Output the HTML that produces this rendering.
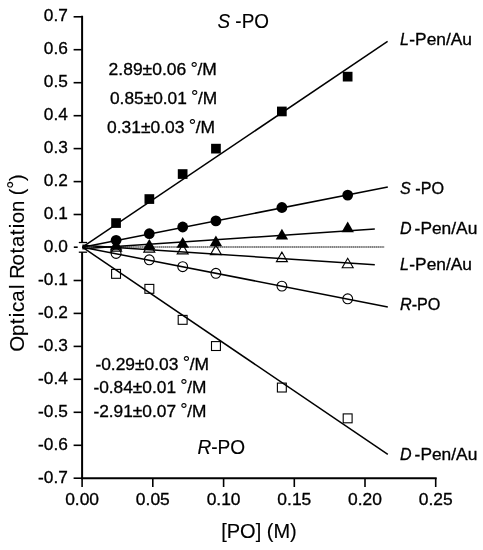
<!DOCTYPE html>
<html><head><meta charset="utf-8"><title>Optical Rotation</title>
<style>
html,body{margin:0;padding:0;background:#fff;}
svg{display:block;}
text{font-family:"Liberation Sans",Arial,sans-serif;fill:#000;stroke:#000;stroke-width:0.3px;}
.tl{font-size:16px;}
.an{font-size:16px;}
.ax{font-size:20px;stroke-width:0.15px;}
.it{font-style:italic;}
</style></head><body>
<svg width="483" height="550" viewBox="0 0 483 550">
<rect width="483" height="550" fill="#fff"/>

<line x1="83" y1="247.0" x2="384.2" y2="247.0" stroke="#5a5a5a" stroke-width="1.3" stroke-dasharray="1.5,0.4"/>
<rect x="111.6" y="269.4" width="8.9" height="8.9" fill="none" stroke="#000" stroke-width="1.1"/>
<rect x="144.9" y="284.4" width="8.9" height="8.9" fill="none" stroke="#000" stroke-width="1.1"/>
<rect x="178.2" y="315.4" width="8.9" height="8.9" fill="none" stroke="#000" stroke-width="1.1"/>
<rect x="211.5" y="341.6" width="8.9" height="8.9" fill="none" stroke="#000" stroke-width="1.1"/>
<rect x="277.4" y="383.1" width="8.9" height="8.9" fill="none" stroke="#000" stroke-width="1.1"/>
<rect x="343.2" y="413.9" width="8.9" height="8.9" fill="none" stroke="#000" stroke-width="1.1"/>
<circle cx="116.1" cy="253.5" r="4.9" fill="none" stroke="#000" stroke-width="1.1"/>
<circle cx="149.3" cy="259.8" r="4.9" fill="none" stroke="#000" stroke-width="1.1"/>
<circle cx="182.7" cy="266.7" r="4.9" fill="none" stroke="#000" stroke-width="1.1"/>
<circle cx="215.9" cy="273.3" r="4.9" fill="none" stroke="#000" stroke-width="1.1"/>
<circle cx="281.9" cy="286.1" r="4.9" fill="none" stroke="#000" stroke-width="1.1"/>
<circle cx="347.7" cy="298.8" r="4.9" fill="none" stroke="#000" stroke-width="1.1"/>
<polygon points="116.1,241.6 110.6,251.1 121.6,251.1" fill="none" stroke="#000" stroke-width="1.1"/>
<polygon points="149.3,242.6 143.8,252.1 154.8,252.1" fill="none" stroke="#000" stroke-width="1.1"/>
<polygon points="182.7,244.4 177.2,253.9 188.2,253.9" fill="none" stroke="#000" stroke-width="1.1"/>
<polygon points="215.9,245.1 210.4,254.6 221.4,254.6" fill="none" stroke="#000" stroke-width="1.1"/>
<polygon points="281.9,252.1 276.4,261.6 287.4,261.6" fill="none" stroke="#000" stroke-width="1.1"/>
<polygon points="347.7,258.3 342.2,267.8 353.2,267.8" fill="none" stroke="#000" stroke-width="1.1"/>
<rect x="111.2" y="218.2" width="9.7" height="9.7" fill="#000"/>
<rect x="144.5" y="194.2" width="9.7" height="9.7" fill="#000"/>
<rect x="177.8" y="169.2" width="9.7" height="9.7" fill="#000"/>
<rect x="211.1" y="143.8" width="9.7" height="9.7" fill="#000"/>
<rect x="277.0" y="106.6" width="9.7" height="9.7" fill="#000"/>
<rect x="342.8" y="71.8" width="9.7" height="9.7" fill="#000"/>
<circle cx="116.1" cy="240.3" r="5.4" fill="#000"/>
<circle cx="149.3" cy="233.7" r="5.4" fill="#000"/>
<circle cx="182.7" cy="227.0" r="5.4" fill="#000"/>
<circle cx="215.9" cy="220.9" r="5.4" fill="#000"/>
<circle cx="281.9" cy="207.5" r="5.4" fill="#000"/>
<circle cx="347.7" cy="195.1" r="5.4" fill="#000"/>
<polygon points="116.1,239.0 109.9,249.7 122.3,249.7" fill="#000"/>
<polygon points="149.3,238.9 143.1,249.6 155.5,249.6" fill="#000"/>
<polygon points="182.7,237.0 176.5,247.7 188.9,247.7" fill="#000"/>
<polygon points="215.9,235.6 209.7,246.3 222.1,246.3" fill="#000"/>
<polygon points="281.9,228.7 275.7,239.4 288.1,239.4" fill="#000"/>
<polygon points="347.7,221.5 341.5,232.2 353.9,232.2" fill="#000"/>
<g stroke="#000" stroke-width="2" fill="none">
<line x1="82.1" y1="15.8" x2="82.1" y2="479.2"/>
<line x1="81.1" y1="478.2" x2="436.7" y2="478.2"/>
</g>
<g stroke="#000" stroke-width="1.6">
<line x1="73.6" y1="478.2" x2="82.1" y2="478.2"/>
<line x1="73.6" y1="445.3" x2="82.1" y2="445.3"/>
<line x1="73.6" y1="412.3" x2="82.1" y2="412.3"/>
<line x1="73.6" y1="379.3" x2="82.1" y2="379.3"/>
<line x1="73.6" y1="346.4" x2="82.1" y2="346.4"/>
<line x1="73.6" y1="313.4" x2="82.1" y2="313.4"/>
<line x1="73.6" y1="280.5" x2="82.1" y2="280.5"/>
<line x1="73.8" y1="247.2" x2="77.7" y2="247.2"/>
<line x1="73.6" y1="214.5" x2="82.1" y2="214.5"/>
<line x1="73.6" y1="181.6" x2="82.1" y2="181.6"/>
<line x1="73.6" y1="148.6" x2="82.1" y2="148.6"/>
<line x1="73.6" y1="115.7" x2="82.1" y2="115.7"/>
<line x1="73.6" y1="82.7" x2="82.1" y2="82.7"/>
<line x1="73.6" y1="49.7" x2="82.1" y2="49.7"/>
<line x1="73.6" y1="16.8" x2="82.1" y2="16.8"/>
<line x1="82.1" y1="478.2" x2="82.1" y2="487.0"/>
<line x1="152.8" y1="478.2" x2="152.8" y2="487.0"/>
<line x1="223.6" y1="478.2" x2="223.6" y2="487.0"/>
<line x1="294.3" y1="478.2" x2="294.3" y2="487.0"/>
<line x1="365.0" y1="478.2" x2="365.0" y2="487.0"/>
<line x1="435.7" y1="478.2" x2="435.7" y2="487.0"/>
</g>
<rect x="78" y="242.6" width="8.8" height="9.6" fill="#fff"/>
<g stroke="#000" stroke-width="1.3"><line x1="78.8" y1="242.5" x2="87.1" y2="242.5"/><line x1="78.8" y1="252.2" x2="87.1" y2="252.2"/></g>
<g stroke="#000" stroke-width="1.5">
<line x1="82.4" y1="247.2" x2="387.6" y2="41.4"/>
<line x1="82.4" y1="247.2" x2="387.8" y2="187.0"/>
<line x1="82.4" y1="248.8" x2="374.8" y2="229.0"/>
<line x1="82.4" y1="245.2" x2="374.8" y2="264.8"/>
<line x1="82.4" y1="247.2" x2="387.8" y2="306.9"/>
<line x1="82.4" y1="247.2" x2="387.8" y2="454.4"/>
</g>
<text class="tl" transform="translate(67.8,482.5) scale(1.08,1)" text-anchor="end">-0.7</text>
<text class="tl" transform="translate(67.8,449.6) scale(1.08,1)" text-anchor="end">-0.6</text>
<text class="tl" transform="translate(67.8,416.6) scale(1.08,1)" text-anchor="end">-0.5</text>
<text class="tl" transform="translate(67.8,383.6) scale(1.08,1)" text-anchor="end">-0.4</text>
<text class="tl" transform="translate(67.8,350.7) scale(1.08,1)" text-anchor="end">-0.3</text>
<text class="tl" transform="translate(67.8,317.7) scale(1.08,1)" text-anchor="end">-0.2</text>
<text class="tl" transform="translate(67.8,284.8) scale(1.08,1)" text-anchor="end">-0.1</text>
<text class="tl" transform="translate(67.8,251.8) scale(1.08,1)" text-anchor="end">0.0</text>
<text class="tl" transform="translate(67.8,218.8) scale(1.08,1)" text-anchor="end">0.1</text>
<text class="tl" transform="translate(67.8,185.9) scale(1.08,1)" text-anchor="end">0.2</text>
<text class="tl" transform="translate(67.8,152.9) scale(1.08,1)" text-anchor="end">0.3</text>
<text class="tl" transform="translate(67.8,120.0) scale(1.08,1)" text-anchor="end">0.4</text>
<text class="tl" transform="translate(67.8,87.0) scale(1.08,1)" text-anchor="end">0.5</text>
<text class="tl" transform="translate(67.8,54.0) scale(1.08,1)" text-anchor="end">0.6</text>
<text class="tl" transform="translate(67.8,21.1) scale(1.08,1)" text-anchor="end">0.7</text>
<text class="tl" transform="translate(82.1,504.9) scale(1.09,1)" text-anchor="middle">0.00</text>
<text class="tl" transform="translate(152.8,504.9) scale(1.09,1)" text-anchor="middle">0.05</text>
<text class="tl" transform="translate(223.6,504.9) scale(1.09,1)" text-anchor="middle">0.10</text>
<text class="tl" transform="translate(294.3,504.9) scale(1.09,1)" text-anchor="middle">0.15</text>
<text class="tl" transform="translate(365.0,504.9) scale(1.09,1)" text-anchor="middle">0.20</text>
<text class="tl" transform="translate(435.7,504.9) scale(1.09,1)" text-anchor="middle">0.25</text>
<text class="ax" x="259" y="538.0" text-anchor="middle">[PO] (M)</text>
<text transform="translate(24.4,0) rotate(-90)" x="-351.8 -336.1 -324.3 -317.3 -311.9 -301.7 -289.1" y="0" style="font-size:20.5px;stroke-width:0.12px">Optical</text>
<text transform="translate(24.4,0) rotate(-90)" x="-278.9 -265.4 -253.4 -247.0 -235.2 -228.2 -223.2 -212.1" y="0" style="font-size:20.5px;stroke-width:0.12px">Rotation</text>
<text transform="translate(24.4,0) rotate(-90)" x="-195.2" y="0" style="font-size:20px;stroke-width:0.12px">(</text>
<text transform="translate(24.4,0) rotate(-90)" x="-181.1" y="0" style="font-size:20px;stroke-width:0.12px">)</text>
<text transform="translate(21.7,0) rotate(-90)" x="-188.8" y="0" style="font-size:20.5px;stroke-width:0.12px">°</text>
<text class="an it" x="400.0" y="44.6">L</text>
<text class="an" transform="translate(409.3,44.6) scale(1.085,1)">-Pen/Au</text>
<text class="an" transform="translate(400.0,194.2) scale(1.010,1)"><tspan class="it">S</tspan> -PO</text>
<text class="an it" x="400.0" y="234.2">D</text>
<text class="an" transform="translate(414.6,234.2) scale(1.085,1)">-Pen/Au</text>
<text class="an it" x="400.0" y="270.4">L</text>
<text class="an" transform="translate(409.3,270.4) scale(1.085,1)">-Pen/Au</text>
<text class="an" transform="translate(400.0,310.3) scale(1.010,1)"><tspan class="it">R</tspan>-PO</text>
<text class="an it" x="400.0" y="459.9">D</text>
<text class="an" transform="translate(414.6,459.9) scale(1.085,1)">-Pen/Au</text>
<text class="ax" transform="translate(217.5,27.7) scale(0.945,1)"><tspan class="it">S</tspan> -PO</text>
<text class="ax" transform="translate(197.4,453.9) scale(0.954,1)"><tspan class="it">R</tspan>-PO</text>
<text class="an" transform="translate(108.6,75.3) scale(1.092,1)">2.89±0.06 <tspan font-size="17" dy="-1.8" dx="-0.5" stroke-width="0.1">°</tspan><tspan dy="1.8" dx="-0.4">/M</tspan></text>
<text class="an" transform="translate(110.0,103.9) scale(1.082,1)">0.85±0.01 <tspan font-size="17" dy="-1.8" dx="-0.5" stroke-width="0.1">°</tspan><tspan dy="1.8" dx="-0.4">/M</tspan></text>
<text class="an" transform="translate(107.0,132.5) scale(1.090,1)">0.31±0.03 <tspan font-size="17" dy="-1.8" dx="-0.5" stroke-width="0.1">°</tspan><tspan dy="1.8" dx="-0.4">/M</tspan></text>
<text class="an" transform="translate(95.4,370.0) scale(1.087,1)">-0.29±0.03 <tspan font-size="17" dy="-1.8" dx="-0.5" stroke-width="0.1">°</tspan><tspan dy="1.8" dx="-0.4">/M</tspan></text>
<text class="an" transform="translate(93.4,393.0) scale(1.083,1)">-0.84±0.01 <tspan font-size="17" dy="-1.8" dx="-0.5" stroke-width="0.1">°</tspan><tspan dy="1.8" dx="-0.4">/M</tspan></text>
<text class="an" transform="translate(93.4,416.5) scale(1.083,1)">-2.91±0.07 <tspan font-size="17" dy="-1.8" dx="-0.5" stroke-width="0.1">°</tspan><tspan dy="1.8" dx="-0.4">/M</tspan></text>
</svg></body></html>
